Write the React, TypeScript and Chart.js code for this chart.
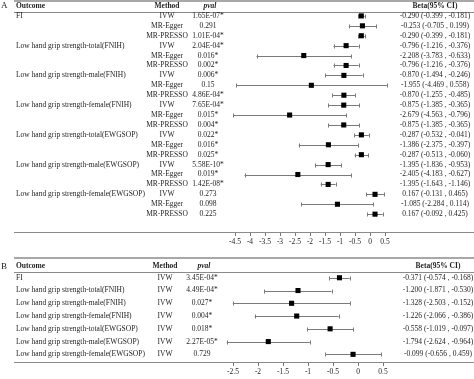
import React, { useEffect, useRef } from 'react';
import { Chart, registerables } from 'chart.js';
Chart.register(...registerables);

const outcomes = [
  'FI',
  'Low hand grip strength-total(FNIH)',
  'Low hand grip strength-male(FNIH)',
  'Low hand grip strength-female(FNIH)',
  'Low hand grip strength-total(EWGSOP)',
  'Low hand grip strength-male(EWGSOP)',
  'Low hand grip strength-female(EWGSOP)',
];
const methodsA = ['IVW', 'MR-Egger', 'MR-PRESSO'];

const betaA = [-0.29, -0.253, -0.29, -0.796, -2.208, -0.796, -0.87, -1.955, -0.87, -0.875, -2.679, -0.875, -0.287, -1.386, -0.287, -1.395, -2.405, -1.395, 0.167, -1.085, 0.167];
const lowA = [-0.399, -0.705, -0.399, -1.216, -3.783, -1.216, -1.494, -4.469, -1.255, -1.385, -4.563, -1.385, -0.532, -2.375, -0.513, -1.836, -4.183, -1.643, -0.131, -2.284, -0.092];
const highA = [-0.181, 0.199, -0.181, -0.376, -0.633, -0.376, -0.246, 0.558, -0.485, -0.365, -0.796, -0.365, -0.041, -0.397, -0.06, -0.953, -0.627, -1.146, 0.465, 0.114, 0.425];
const pvalA = ['1.65E-07*', '0.291', '1.01E-04*', '2.04E-04*', '0.016*', '0.002*', '0.006*', '0.15', '4.86E-04*', '7.65E-04*', '0.015*', '0.004*', '0.022*', '0.016*', '0.025*', '5.58E-10*', '0.019*', '1.42E-08*', '0.273', '0.098', '0.225'];

const betaB = [-0.371, -1.2, -1.328, -1.226, -0.558, -1.794, -0.099];
const lowB = [-0.574, -1.871, -2.503, -2.066, -1.019, -2.624, -0.656];
const highB = [-0.168, -0.53, -0.152, -0.386, -0.097, -0.964, 0.459];
const pvalB = ['3.45E-04*', '4.49E-04*', '0.027*', '0.004*', '0.018*', '2.27E-05*', '0.729'];

const xTicksA = [-4.5, -4, -3.5, -3, -2.5, -2, -1.5, -1, -0.5, 0, 0.5];
const xTicksB = [-2.5, -2, -1.5, -1, -0.5, 0, 0.5];

const FONT = "'Liberation Serif', 'Times New Roman', serif";
const TEXT = '#1e1e1e';
const LINE = '#8a8a8a';

const fmt = (v: number) => v.toFixed(3);

type Panel = {
  letter: string;
  beta: number[];
  low: number[];
  high: number[];
  pval: string[];
  outcomeLabels: string[];
  methodLabels: string[];
  ticks: number[];
  xMin: number;
  xMax: number;
  yMin: number;
  yMax: number;
  topLineV: number;
  headerV: number;
  headerLineV: number;
  padding: { left: number; right: number; top: number; bottom: number };
  cols: { outcome: number; method: number; pval: number; beta: number };
  width: number;
  height: number;
};

function makePanel(p: Panel, canvas: HTMLCanvasElement) {
  const plugin = {
    id: 'forestTable',
    beforeDatasetsDraw(chart: any) {
      const ctx = chart.ctx;
      const xs = chart.scales.x;
      const ys = chart.scales.y;
      ctx.save();
      ctx.strokeStyle = '#7a7a7a';
      ctx.lineWidth = 1;
      p.beta.forEach((_, i) => {
        const y = Math.round(ys.getPixelForValue(i)) + 0.5;
        const x1 = xs.getPixelForValue(p.low[i]);
        const x2 = xs.getPixelForValue(p.high[i]);
        ctx.beginPath();
        ctx.moveTo(x1, y);
        ctx.lineTo(x2, y);
        ctx.moveTo(Math.round(x1) + 0.5, y - 2);
        ctx.lineTo(Math.round(x1) + 0.5, y + 2);
        ctx.moveTo(Math.round(x2) + 0.5, y - 2);
        ctx.lineTo(Math.round(x2) + 0.5, y + 2);
        ctx.stroke();
      });
      ctx.restore();
    },
    afterDraw(chart: any) {
      const ctx = chart.ctx;
      const ys = chart.scales.y;
      const area = chart.chartArea;
      const W = chart.width;
      ctx.save();
      // lines
      ctx.strokeStyle = '#a8a8a8';
      ctx.lineWidth = 2;
      const ty = ys.getPixelForValue(p.topLineV);
      ctx.beginPath();
      ctx.moveTo(14, ty);
      ctx.lineTo(W, ty);
      ctx.stroke();
      ctx.strokeStyle = LINE;
      ctx.lineWidth = 1;
      const hy = Math.round(ys.getPixelForValue(p.headerLineV)) + 0.5;
      ctx.beginPath();
      ctx.moveTo(14, hy);
      ctx.lineTo(W, hy);
      ctx.stroke();
      const by = Math.round(area.bottom) + 0.5;
      ctx.beginPath();
      ctx.moveTo(14, by);
      ctx.lineTo(W, by);
      ctx.stroke();

      // header
      ctx.fillStyle = TEXT;
      ctx.textBaseline = 'middle';
      const hY = ys.getPixelForValue(p.headerV);
      ctx.font = `9px ${FONT}`;
      ctx.textAlign = 'left';
      ctx.fillText(p.letter, 1, hY);
      ctx.font = `bold 7.5px ${FONT}`;
      ctx.fillText('Outcome', p.cols.outcome, hY);
      ctx.textAlign = 'center';
      ctx.fillText('Method', p.cols.method, hY);
      ctx.fillText('Beta(95% CI)', p.cols.beta, hY);
      ctx.font = `italic bold 7.5px ${FONT}`;
      ctx.fillText('pval', p.cols.pval + 2, hY);

      ctx.font = `7.5px ${FONT}`;
      p.beta.forEach((b, i) => {
        const y = ys.getPixelForValue(i);
        ctx.textAlign = 'left';
        if (p.outcomeLabels[i]) ctx.fillText(p.outcomeLabels[i], p.cols.outcome, y);
        ctx.textAlign = 'center';
        ctx.fillText(p.methodLabels[i], p.cols.method, y);
        ctx.fillText(p.pval[i], p.cols.pval, y);
        ctx.fillText(`${fmt(b)} (${fmt(p.low[i])} , ${fmt(p.high[i])})`, p.cols.beta, y);
      });
      ctx.restore();
    },
  };

  return new Chart(canvas, {
    type: 'scatter',
    data: {
      datasets: [
        {
          data: p.beta.map((b, i) => ({ x: b, y: i })),
          pointStyle: 'rect',
          radius: 3.6,
          backgroundColor: '#000',
          borderColor: '#000',
          borderWidth: 0,
          clip: false as any,
        },
      ],
    },
    options: {
      animation: false,
      responsive: false,
      devicePixelRatio: 1,
      layout: { padding: p.padding },
      plugins: { legend: { display: false }, tooltip: { enabled: false } },
      scales: {
        x: {
          type: 'linear',
          min: p.xMin,
          max: p.xMax,
          afterBuildTicks: (scale: any) => {
            scale.ticks = p.ticks.map((v) => ({ value: v }));
          },
          ticks: {
            autoSkip: false,
            maxRotation: 0,
            padding: 2,
            color: TEXT,
            font: { family: FONT, size: 7.5 },
            callback: (v: any) => String(v),
          },
          grid: { drawOnChartArea: false, drawTicks: true, tickLength: 4, color: '#777' },
          border: { display: false },
        },
        y: {
          type: 'linear',
          display: false,
          reverse: true,
          min: p.yMin,
          max: p.yMax,
        },
      },
    },
    plugins: [plugin],
  } as any);
}

const outcomeLabelsA = betaA.map((_, i) => (i % 3 === 0 ? outcomes[i / 3] : ''));
const methodLabelsA = betaA.map((_, i) => methodsA[i % 3]);
const methodLabelsB = betaB.map(() => 'IVW');

export default function App() {
  const refA = useRef<HTMLCanvasElement>(null);
  const refB = useRef<HTMLCanvasElement>(null);
  useEffect(() => {
    const a = makePanel(
      {
        letter: 'A',
        beta: betaA,
        low: lowA,
        high: highA,
        pval: pvalA,
        outcomeLabels: outcomeLabelsA,
        methodLabels: methodLabelsA,
        ticks: xTicksA,
        xMin: -4.5,
        xMax: 0.5,
        yMin: -1,
        yMax: 21.8,
        topLineV: -1.5,
        headerV: -1,
        headerLineV: -0.42,
        padding: { left: 235, right: 89, top: 6, bottom: 1 },
        cols: { outcome: 16, method: 167, pval: 208, beta: 435 },
        width: 474,
        height: 250,
      },
      refA.current!
    );
    const b = makePanel(
      {
        letter: 'B',
        beta: betaB,
        low: lowB,
        high: highB,
        pval: pvalB,
        outcomeLabels: outcomes,
        methodLabels: methodLabelsB,
        ticks: xTicksB,
        xMin: -2.5,
        xMax: 0.5,
        yMin: -1,
        yMax: 6.6,
        topLineV: -1.55,
        headerV: -0.9,
        headerLineV: -0.45,
        padding: { left: 233, right: 91, top: 15, bottom: 0 },
        cols: { outcome: 16, method: 165, pval: 202, beta: 438 },
        width: 474,
        height: 129,
      },
      refB.current!
    );
    return () => {
      a.destroy();
      b.destroy();
    };
  }, []);
  return (
    <div style={{ position: 'absolute', left: 0, top: 0, width: 474, height: 379, background: '#fff' }}>
      <canvas ref={refA} width={474} height={250} style={{ position: 'absolute', left: 0, top: 0, width: 474, height: 250 }} />
      <canvas ref={refB} width={474} height={129} style={{ position: 'absolute', left: 0, top: 250, width: 474, height: 129 }} />
    </div>
  );
}
